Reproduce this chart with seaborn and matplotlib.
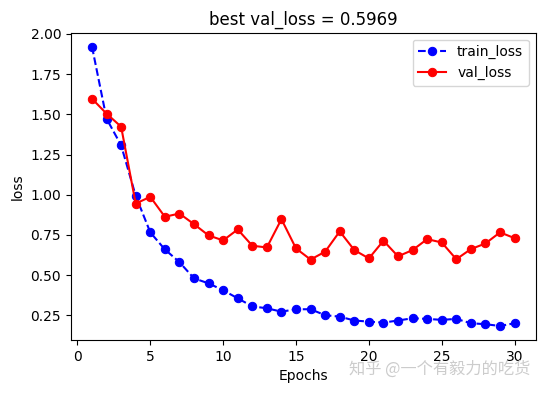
# Training curve: train_loss vs val_loss

import matplotlib
matplotlib.use("Agg")
import matplotlib.pyplot as plt
import seaborn as sns

epochs = list(range(1, 31))
train_loss = [1.921, 1.473, 1.307, 0.993, 0.766, 0.660, 0.581, 0.480, 0.449, 0.406,
              0.356, 0.306, 0.294, 0.273, 0.288, 0.288, 0.251, 0.242, 0.218, 0.211,
              0.205, 0.218, 0.232, 0.228, 0.222, 0.228, 0.201, 0.195, 0.184, 0.201]
val_loss = [1.597, 1.504, 1.423, 0.945, 0.987, 0.863, 0.883, 0.817, 0.747, 0.716,
            0.784, 0.683, 0.672, 0.848, 0.666, 0.5969, 0.646, 0.772, 0.656, 0.604,
            0.714, 0.617, 0.656, 0.724, 0.703, 0.599, 0.662, 0.697, 0.766, 0.730]

fig = plt.figure(figsize=(5.45, 3.93), dpi=100)
ax = fig.add_axes([0.130, 0.135, 0.853, 0.782])

sns.lineplot(x=epochs, y=train_loss, ax=ax, color="blue", linestyle="--",
             marker="o", markersize=6, markeredgecolor="blue", label="train_loss")
sns.lineplot(x=epochs, y=val_loss, ax=ax, color="red", linestyle="-",
             marker="o", markersize=6, markeredgecolor="red", label="val_loss")

ax.set_title("best val_loss = %.4f" % min(val_loss))
ax.set_xlabel("Epochs")
ax.set_ylabel("loss")
ax.set_xticks([0, 5, 10, 15, 20, 25, 30])
ax.set_yticks([0.25, 0.5, 0.75, 1.0, 1.25, 1.5, 1.75, 2.0])
ax.legend(loc="upper right")

# watermark
fig.text(0.973, 0.06, "知乎 @一个有毅力的吃货", ha="right", va="center", fontsize=11.7,
         color="#cccccc", family=["Noto Sans CJK SC", "DejaVu Sans"])

plt.savefig("out.png", dpi=100)
plt.close()
